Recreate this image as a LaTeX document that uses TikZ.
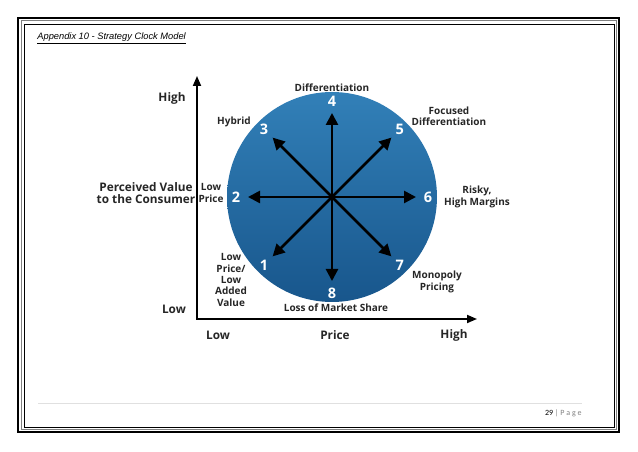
\documentclass[tikz,border=0pt]{standalone}
\usepackage{fontspec}
\setmainfont{Open Sans}
\newfontfamily\arialfont{Liberation Sans}
\newfontfamily\calfont{Carlito}
\usetikzlibrary{arrows.meta}
\definecolor{clocktop}{RGB}{50,128,184}
\definecolor{clockbot}{RGB}{24,86,140}

\begin{document}
\begin{tikzpicture}
  [x=1pt,y=1pt,
   lbl/.style={font=\bfseries\fontsize{10}{11.4}\selectfont,text=black!85,align=center,inner sep=0pt},
   axlbl/.style={font=\bfseries\fontsize{11.8}{12.5}\selectfont,text=black!85,align=center,inner sep=0pt},
   num/.style={font=\bfseries\fontsize{14.5}{14.5}\selectfont,text=white,inner sep=0pt},
   spoke/.style={line width=2.6pt,-{Triangle[length=12pt,width=12pt]}},
   axis/.style={line width=1.8pt,{Triangle[length=10pt,width=8pt]}-{Triangle[length=10pt,width=8pt]}},
   thick]

  \useasboundingbox (0,0) rectangle (638,452);

  % page frame
  \draw[line width=1.6pt] (18,20) rectangle (619,434);
  \draw[gray,line width=1pt] (21,22.5) rectangle (616.5,431);
  \draw[line width=0.8pt] (24,25) rectangle (614,428);
  \draw[black!12,line width=0.6pt] (38,49) -- (582,49);

  \node[anchor=west,inner sep=0pt,font=\arialfont\itshape\fontsize{9.3}{10}\selectfont] (title) at (37,414) {\underline{Appendix 10 - Strategy Clock Model}};
  \node[anchor=east,inner sep=0pt,font=\calfont\fontsize{8}{9}\selectfont] (page) at (582,39) {29 \textcolor{gray}{| P a g e}};

  % axes
  \coordinate (o) at (197,133);
  \coordinate (ytip) at (197,376);
  \coordinate (xtip) at (477,133);
  \draw[axis] (ytip) |- (xtip);

  % clock
  \begin{scope}[shift={(332,255)}]
    \shade[top color=clocktop,bottom color=clockbot] (0,0) circle (105);
    \coordinate (c) at (0,0);
    \foreach \a/\n in {225/1,180/2,135/3,90/4,45/5,0/6,-45/7,-90/8}{
      \coordinate (t\n) at (\a:84);
      \node[num] (n\n) at (\a:96) {\n};
      \draw[spoke] (c) -- (t\n);
    }
  \end{scope}

  \node[axlbl] (yhigh) at (172,354) {High};
  \node[axlbl] (ylow)  at (174,143) {Low};
  \node[axlbl] (pv)    at (146,259) {Perceived Value\\to the Consumer};
  \node[axlbl] (xlow)  at (218,117) {Low};
  \node[axlbl] (price) at (335,117) {Price};
  \node[axlbl] (xhigh) at (454,117) {High};

  \node[lbl] (l4) at (332,364) {Differentiation};
  \node[lbl] (l3) at (234,330) {Hybrid};
  \node[lbl] (l2) at (211,259) {Low\\Price};
  \node[lbl] (l5) at (449,336) {Focused\\Differentiation};
  \node[lbl] (l6) at (477,255) {Risky,\\High Margins};
  \node[lbl] (l7) at (437,170) {Monopoly\\Pricing};
  \node[lbl] (l8) at (336,144) {Loss of Market Share};
  \node[lbl] (l1) at (231,172) {Low\\Price/\\Low\\Added\\Value};
\end{tikzpicture}
\end{document}
